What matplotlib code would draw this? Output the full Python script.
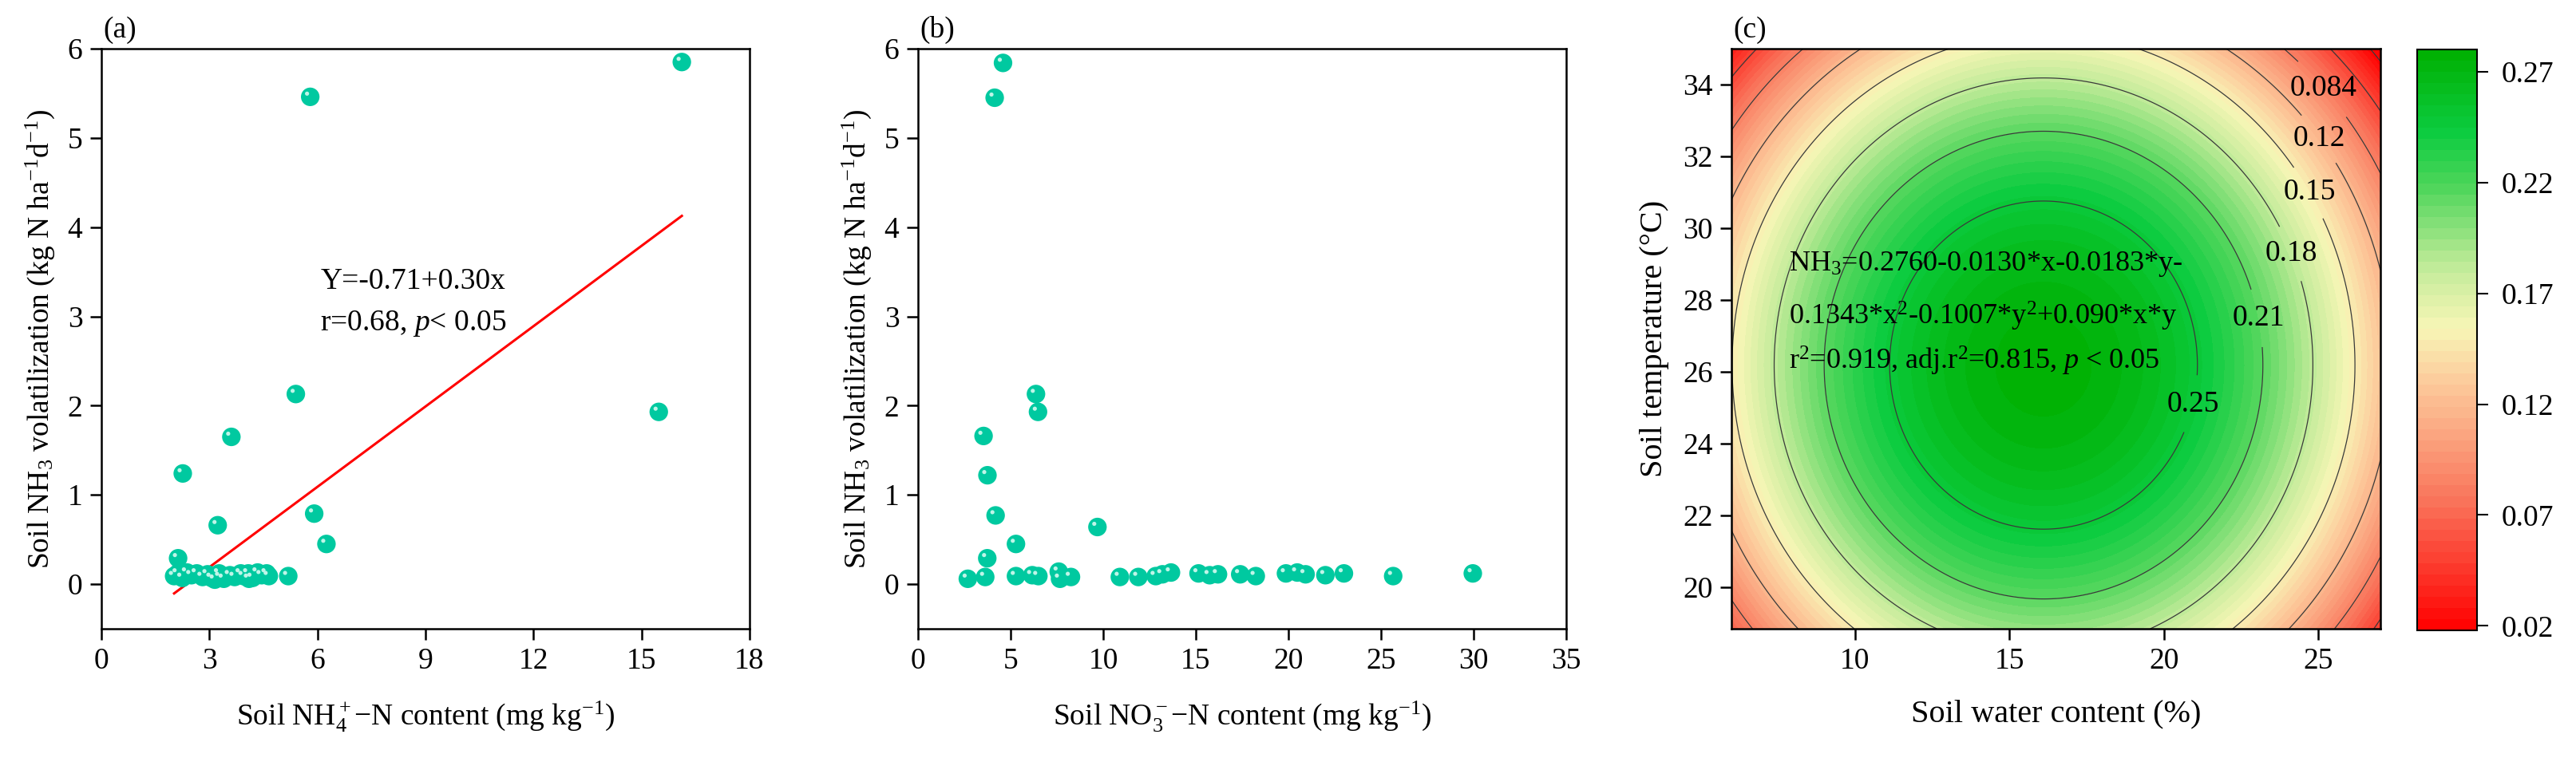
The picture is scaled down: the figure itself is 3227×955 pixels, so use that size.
#!/usr/bin/env python3
"""
Soil NH3 volatilization vs soil NH4+, NO3- and the water/temperature response surface
"""

import numpy as np
import matplotlib
matplotlib.use('Agg')
import matplotlib.pyplot as plt
from matplotlib.colors import LinearSegmentedColormap
from matplotlib.transforms import offset_copy

# ---- panel (a): NH4+-N vs NH3 volatilization ----
nh4_a = [16.12, 5.80, 15.48, 5.40, 3.61, 2.26, 3.23, 5.91, 6.25, 2.13, 5.19,
         2.02, 2.12, 2.25, 2.38, 2.50, 2.65, 2.81, 2.95, 3.06, 3.15, 3.27, 3.40,
         3.57, 3.70, 3.87, 3.95, 4.08, 4.20, 4.34, 4.45, 4.59, 4.65, 4.10, 3.30]
nh3_a = [5.85, 5.46, 1.93, 2.13, 1.65, 1.24, 0.66, 0.79, 0.45, 0.29, 0.09,
         0.09, 0.12, 0.07, 0.13, 0.10, 0.12, 0.08, 0.11, 0.07, 0.05, 0.12, 0.06,
         0.10, 0.08, 0.12, 0.09, 0.12, 0.07, 0.13, 0.10, 0.12, 0.09, 0.06, 0.08]
fit_a = (-0.71, 0.30)  # intercept, slope

# ---- panel (b): NO3--N vs NH3 volatilization ----
no3_b = [4.59, 4.14, 6.37, 6.48, 3.54, 3.75, 4.19, 9.69, 5.29, 3.74,
         2.69, 3.63, 5.29, 6.17, 6.50, 7.60, 7.67, 8.26, 10.90, 11.90, 12.84,
         13.20, 13.66, 15.15, 15.75, 16.20, 17.40, 18.24, 19.87, 20.48, 20.93,
         22.00, 23.00, 25.66, 29.96]
nh3_b = [5.84, 5.45, 2.13, 1.93, 1.66, 1.22, 0.77, 0.64, 0.45, 0.29,
         0.06, 0.08, 0.09, 0.10, 0.09, 0.14, 0.06, 0.08, 0.08, 0.08, 0.09,
         0.11, 0.13, 0.12, 0.10, 0.11, 0.11, 0.09, 0.12, 0.13, 0.11,
         0.10, 0.12, 0.09, 0.12]

# ---- panel (c): response surface ----
peak_nh3 = 0.278
peak_water = 16.1
peak_temp = 26.19
curv_water = 0.00127
curv_temp = 0.00151
plain_levels = [0.019, 0.0515]
label_levels = [0.084, 0.1165, 0.149, 0.1815, 0.214, 0.2465]
label_text = ['0.084', '0.12', '0.15', '0.18', '0.21', '0.25']
label_spots = [(25.16, 33.9), (25.04, 32.5), (24.71, 31.0), (24.13, 29.3),
               (23.05, 27.5), (20.94, 25.1)]
cbar_ticks = [0.02, 0.07, 0.12, 0.17, 0.22, 0.27]

plt.rcParams['font.family'] = 'Liberation Serif'
plt.rcParams['mathtext.fontset'] = 'custom'
plt.rcParams['mathtext.rm'] = 'Liberation Serif'
plt.rcParams['mathtext.it'] = 'Liberation Serif:italic'
plt.rcParams['mathtext.bf'] = 'Liberation Serif:bold'

DOT = '#00c9a0'
SHINE = '#bff5e8'
FS = 27


def style_axes(ax, size=FS):
    for s in ax.spines.values():
        s.set_linewidth(1.8)
    ax.tick_params(direction='out', length=10, width=1.8, labelsize=size, pad=7,
                   top=False, right=False)


def scatter_balls(ax, fig, x, y):
    ax.scatter(x, y, s=280, color=DOT, edgecolors='none', zorder=3)
    hl = offset_copy(ax.transData, fig=fig, x=-4, y=4, units='dots')
    ax.scatter(x, y, s=14, color=SHINE, edgecolors='none', zorder=4, transform=hl)


fig = plt.figure(figsize=(32.27, 9.55), dpi=100)

# (a)
ax1 = fig.add_axes([0.03936, 0.17487, 0.2516, 0.7613])
scatter_balls(ax1, fig, nh4_a, nh3_a)
xs = np.array([min(nh4_a), max(nh4_a)])
ax1.plot(xs, fit_a[0] + fit_a[1] * xs, color='#ff0000', lw=2.2, zorder=2)
ax1.set_xlim(0, 18)
ax1.set_ylim(-0.5, 6)
ax1.set_xticks([0, 3, 6, 9, 12, 15, 18])
ax1.set_yticks([0, 1, 2, 3, 4, 5, 6])
style_axes(ax1)
ax1.set_xlabel('Soil NH$_4^+$\u2212N content (mg kg$^{-1}$)', fontsize=FS, labelpad=22)
ax1.set_ylabel('Soil NH$_3$ volatilization (kg N ha$^{-1}$d$^{-1}$)', fontsize=FS, labelpad=10)
ax1.text(6.08, 3.39, 'Y=-0.71+0.30x', fontsize=FS, va='center', ha='left')
ax1.text(6.08, 2.92, 'r=0.68, $p$< 0.05', fontsize=FS, va='center', ha='left')
ax1.text(0.003, 1.008, '(a)', transform=ax1.transAxes, fontsize=FS, ha='left', va='bottom')

# (b)
ax2 = fig.add_axes([0.35637, 0.17487, 0.2516, 0.7613])
scatter_balls(ax2, fig, no3_b, nh3_b)
ax2.set_xlim(0, 35)
ax2.set_ylim(-0.5, 6)
ax2.set_xticks([0, 5, 10, 15, 20, 25, 30, 35])
ax2.set_yticks([0, 1, 2, 3, 4, 5, 6])
style_axes(ax2)
ax2.set_xlabel('Soil NO$_3^-$\u2212N content (mg kg$^{-1}$)', fontsize=FS, labelpad=22)
ax2.set_ylabel('Soil NH$_3$ volatilization (kg N ha$^{-1}$d$^{-1}$)', fontsize=FS, labelpad=10)
ax2.text(0.003, 1.008, '(b)', transform=ax2.transAxes, fontsize=FS, ha='left', va='bottom')

# (c)
ax3 = fig.add_axes([0.67214, 0.17487, 0.2519, 0.7613])
cmap = LinearSegmentedColormap.from_list('rg', [
    (0.00, '#ff0000'), (0.22, '#f9735a'), (0.42, '#fcc89a'), (0.52, '#f8f6b6'),
    (0.62, '#c6ec9c'), (0.76, '#52d65c'), (0.86, '#0ccc40'), (1.00, '#00b000')])
vmin, vmax = 0.018, 0.28
W, T = np.meshgrid(np.linspace(6, 27, 400), np.linspace(18.85, 35, 400))
Z = peak_nh3 - curv_water * (W - peak_water) ** 2 - curv_temp * (T - peak_temp) ** 2
cf = ax3.contourf(W, T, np.clip(Z, vmin, vmax), levels=np.linspace(vmin, vmax, 53),
                  cmap=cmap, vmin=vmin, vmax=vmax)
ax3.contour(W, T, Z, levels=plain_levels, colors='#3a3a3a', linewidths=0.9)
cs = ax3.contour(W, T, Z, levels=label_levels, colors='#3a3a3a', linewidths=0.9)
ax3.clabel(cs, inline=True, fontsize=FS, inline_spacing=4,
           fmt=dict(zip(cs.levels, label_text)), manual=label_spots, colors='black')
for t in cs.labelTexts:
    t.set_rotation(0)
ax3.set_xlim(6, 27)
ax3.set_ylim(18.85, 35)
ax3.set_xticks([10, 15, 20, 25])
ax3.set_yticks([20, 22, 24, 26, 28, 30, 32, 34])
style_axes(ax3, 27)
ax3.set_xlabel('Soil water content (%)', fontsize=29, labelpad=22)
ax3.set_ylabel('Soil temperature (\u00b0C)', fontsize=29, labelpad=12)
ax3.text(7.85, 29.0, 'NH$_3$=0.2760-0.0130*x-0.0183*y-', fontsize=26, va='center')
ax3.text(7.85, 27.55, '0.1343*x$^2$-0.1007*y$^2$+0.090*x*y', fontsize=26, va='center')
ax3.text(7.85, 26.3, 'r$^2$=0.919, adj.r$^2$=0.815, $p$ < 0.05', fontsize=26, va='center')
ax3.text(0.003, 1.008, '(c)', transform=ax3.transAxes, fontsize=FS, ha='left', va='bottom')

cax = fig.add_axes([0.9383, 0.1728, 0.02324, 0.7623])
cb = fig.colorbar(cf, cax=cax, ticks=cbar_ticks)
cb.ax.set_yticklabels(['%.2f' % t for t in cbar_ticks])
cb.outline.set_linewidth(1.5)
cb.ax.tick_params(direction='out', length=10, width=1.5, labelsize=27, pad=12)

plt.savefig('out.png', dpi=100, facecolor='white')
plt.close()
